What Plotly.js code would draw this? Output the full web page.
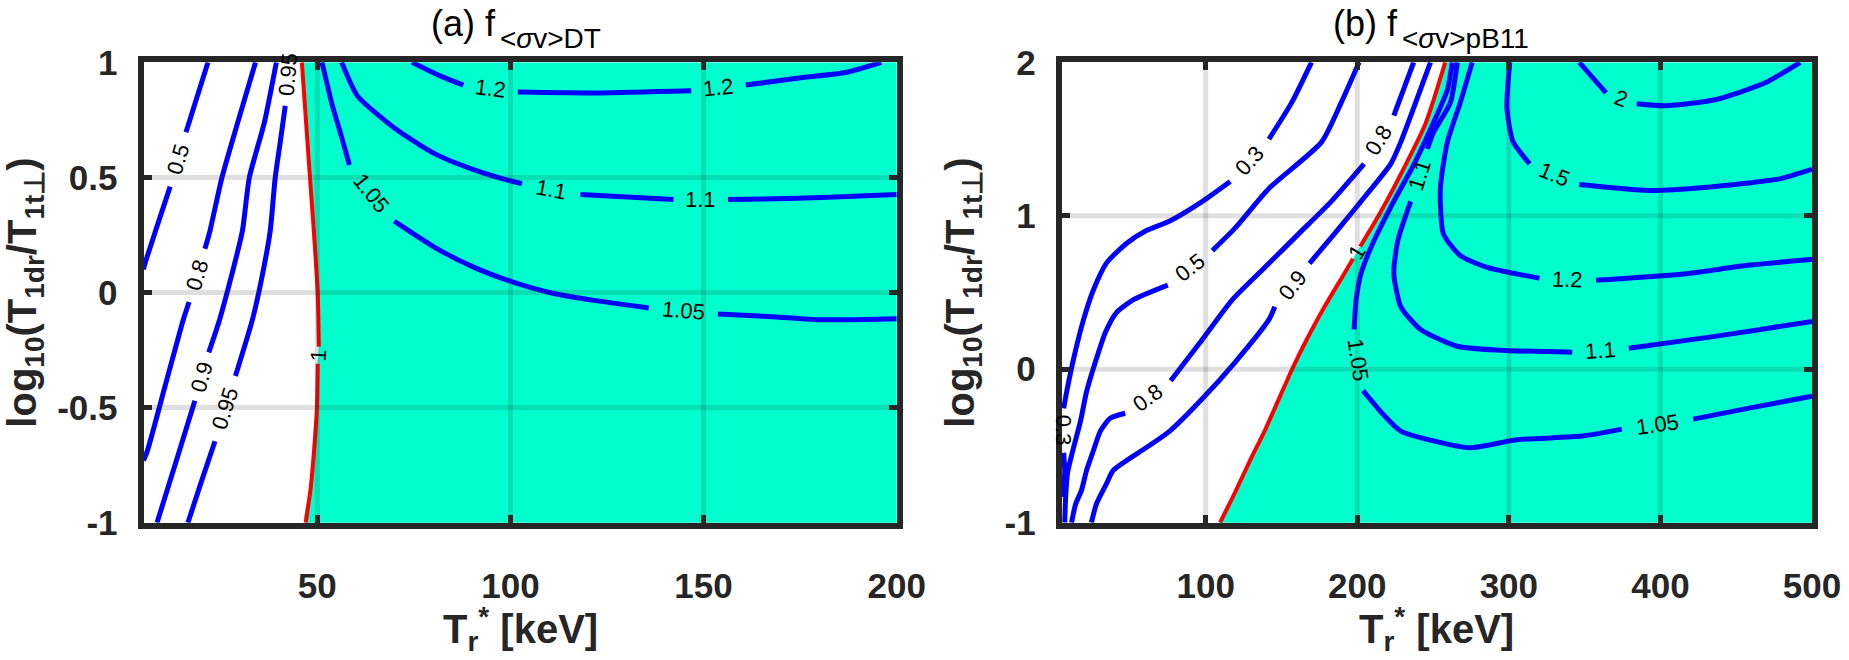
<!DOCTYPE html>
<html>
<head>
<meta charset="utf-8">
<script src="https://cdn.plot.ly/plotly-3.0.1.min.js"></script>
<style>
  html, body { margin: 0; padding: 0; background: #ffffff; }
  #chart { width: 1849px; height: 660px; }
</style>
</head>
<body>
<div id="chart"></div>
<script>
// ---------------- panel (a): D-T reactivity ratio ----------------
const dtRangeX = [5, 200];
const dtRangeY = [-1, 1];
const dtTickValsX = [50, 100, 150, 200];
const dtTickValsY = [-1, -0.5, 0, 0.5, 1];
const dtTickTextY = ['-1', '-0.5', '0', '0.5', '1'];

// contour paths; a null marks the break where the level label is written
const dtX050 = [21.7, 18.8, 16.0, null, 11.9, 8.1, 5.3, 5.0];
const dtY050 = [1.0, 0.846, 0.696, null, 0.460, 0.267, 0.121, 0.10];

const dtX080 = [34.0, 29.4, 25.3, 22.2, 20.9, null, 16.8, 15.3, 10.6, 6.0, 5.0];
const dtY080 = [1.0, 0.739, 0.499, 0.267, 0.190, null, -0.041, -0.118, -0.406, -0.688, -0.73];

const dtX090 = [39.4, 36.3, 32.4, 30.6, 27.8, 24.7, 21.9, null, 18.3, 13.5, 8.5];
const dtY090 = [1.0, 0.739, 0.499, 0.267, 0.074, -0.118, -0.260, null, -0.470, -0.731, -1.0];

const dtX095 = [43.2, null, 41.7, 40.4, 39.1, 37.8, 35.5, 33.2, 28.8, null, 23.5, 19.9, 16.5];
const dtY095 = [1.081, null, 0.811, 0.653, 0.499, 0.267, 0.053, -0.118, -0.363, null, -0.646, -0.826, -1.0];

const dtX105 = [51.2, 53.7, 56.3, 58.3, null, 69.9, 80.6, 90.6, 100.9, 110.9, 121.2, 135.8, null, 153.7, 169.1, 179.4, 188.8, 200];
const dtY105 = [1.0, 0.824, 0.674, 0.554, null, 0.310, 0.194, 0.109, 0.044, -0.003, -0.033, -0.067, null, -0.093, -0.106, -0.118, -0.118, -0.114];

const dtX110 = [56.3, 60.4, 70.4, 80.6, 90.6, 100.9, 103.0, null, 118.1, 142.2, null, 156.3, 174.2, 187.1, 200];
const dtY110 = [1.0, 0.854, 0.709, 0.601, 0.533, 0.481, 0.473, null, 0.426, 0.404, null, 0.404, 0.409, 0.417, 0.426];

const dtX120 = [74.5, 81.9, 87.8, null, 101.9, 122.9, 146.8, null, 160.9, 174.2, 187.1, 196.0];
const dtY120 = [1.0, 0.940, 0.901, null, 0.871, 0.867, 0.876, null, 0.901, 0.931, 0.957, 1.0];

// f = 1 boundary
const dtX100 = [46.0, 48.1, 49.1, 50.1, 50.4, null, 50.1, 49.9, 49.4, 48.3, 47.0];
const dtY100 = [1.0, 0.499, 0.267, -0.003, -0.235, null, -0.31, -0.5, -0.633, -0.847, -1.0];

// ---------------- panel (b): p-B11 reactivity ratio ----------------
const pbRangeX = [5, 500];
const pbRangeY = [-1, 2];
const pbTickValsX = [100, 200, 300, 400, 500];
const pbTickValsY = [-1, 0, 1, 2];
const pbTickTextY = ['-1', '0', '1', '2'];

const pbX030 = [169.8, 156.7, 141.7, null, 116.2, 97.9, 76.3, 60.6, 47.5, 34.4, 25.9, 19.4, 12.8, 8.3, 6.3, null, 6.3, 7.0, 5.7];
const pbY030 = [2.0, 1.737, 1.499, null, 1.223, 1.094, 0.966, 0.902, 0.818, 0.690, 0.516, 0.323, 0.066, -0.146, -0.255, null, -0.544, -0.672, -0.833];

const pbX050 = [201.2, 189.4, 176.4, 141.7, 119.5, 104.4, null, 75.0, 52.1, 41.0, 33.8, 27.2, 21.4, 17.4, 12.8, 8.9, 7.6, 7.0];
const pbY050 = [2.0, 1.737, 1.480, 1.178, 0.921, 0.773, null, 0.548, 0.452, 0.368, 0.240, 0.047, -0.146, -0.338, -0.512, -0.672, -0.833, -1.0];

const pbX080 = [237.2, 224.1, null, 204.5, 182.9, 161.3, 139.1, 117.5, 97.9, 76.9, null, 46.9, 37.0, 30.5, 25.9, 21.4, 18.1, 14.2, 11.5];
const pbY080 = [2.0, 1.653, null, 1.338, 1.094, 0.882, 0.664, 0.452, 0.195, -0.075, null, -0.287, -0.319, -0.403, -0.531, -0.659, -0.788, -0.878, -1.0];

const pbX090 = [248.3, 238.5, 228.7, 222.1, 202.5, 184.9, 168.5, null, 145.6, 141.7, 119.5, 97.9, 76.3, 60.6, 39.0, 34.4, 27.9, 24.6];
const pbY090 = [2.0, 1.737, 1.480, 1.338, 1.094, 0.882, 0.690, null, 0.407, 0.323, 0.047, -0.191, -0.403, -0.512, -0.659, -0.749, -0.878, -1.0];

const pbX105 = [262.7, 259.4, 250.3, 237.2, 224.1, 211.0, 202.5, 199.2, 197.9, null, 203.8, 217.6, 228.7, 250.3, 274.5, 305.2, 348.4, 374.5, null, 421.6, 457.6, 498.8, 500];
const pbY105 = [2.0, 1.820, 1.608, 1.332, 1.094, 0.837, 0.625, 0.452, 0.259, null, -0.139, -0.300, -0.403, -0.467, -0.512, -0.460, -0.435, -0.390, null, -0.325, -0.255, -0.178, -0.175];

const pbX110 = [266.0, 261.4, 250.3, 246.3, null, 235.2, 226.7, 224.1, 228.7, 241.8, 266.0, 294.1, 341.8, null, 379.1, 436.0, 498.8, 500];
const pbY110 = [2.0, 1.737, 1.544, 1.435, null, 1.094, 0.837, 0.625, 0.407, 0.259, 0.150, 0.124, 0.111, null, 0.137, 0.214, 0.310, 0.312];

const pbX120 = [275.8, 267.9, 259.4, 254.8, 256.8, 267.9, 285.6, 320.2, null, 357.5, 413.8, 457.6, 498.8, 500];
const pbY120 = [2.0, 1.737, 1.480, 1.178, 0.882, 0.741, 0.664, 0.593, null, 0.580, 0.619, 0.677, 0.715, 0.716];

const pbX150 = [300.6, 298.7, 302.6, 313.7, null, 346.4, 392.2, 436.0, 479.2, 498.8, 500];
const pbY150 = [2.0, 1.705, 1.486, 1.338, null, 1.203, 1.165, 1.191, 1.242, 1.300, 1.305];

const pbX200 = [346.4, 364.1, null, 384.3, 403.3, 436.0, 468.7, 492.2];
const pbY200 = [2.0, 1.801, null, 1.730, 1.717, 1.756, 1.865, 2.0];

// f = 1 boundary
const pbX100 = [258, 245, 225, 214, 202, null, 197.2, 190, 178, 167, 157, 148, 139, 129, 119.5, 109.5];
const pbY100 = [2.0, 1.6, 1.2, 1.0, 0.80, null, 0.72, 0.6, 0.4, 0.2, 0.0, -0.2, -0.4, -0.6, -0.8, -1.0];

// ---------------- styling ----------------
const FIG_W = 1849, FIG_H = 660;
const FONT = 'Liberation Sans, Arial, Helvetica, sans-serif';
const AXIS_COLOR = '#262626';
const FILL_COLOR = '#00FFCC';
const LEVEL_COLOR = '#0000FF';
const BOUNDARY_COLOR = '#FF0000';
const GRID_COLOR = 'rgba(38,38,38,0.15)';

const domY = [1 - 522.7 / FIG_H, 1 - 62.3 / FIG_H];

const panels = [
  {
    xa: 'x', ya: 'y',
    domX: [143.5 / FIG_W, 896.7 / FIG_W],
    rangeX: dtRangeX, rangeY: dtRangeY,
    tickValsX: dtTickValsX, tickValsY: dtTickValsY, tickTextY: dtTickTextY,
    levels: [
      { value: 0.5, x: dtX050, y: dtY050 },
      { value: 0.8, x: dtX080, y: dtY080 },
      { value: 0.9, x: dtX090, y: dtY090 },
      { value: 0.95, x: dtX095, y: dtY095 },
      { value: 1.05, x: dtX105, y: dtY105 },
      { value: 1.1, x: dtX110, y: dtY110 },
      { value: 1.2, x: dtX120, y: dtY120 }
    ],
    boundary: { value: 1, x: dtX100, y: dtY100 },
    titleMain: '(a) f',
    titleSub: '&lt;<i>σ</i>v&gt;DT',
    titleJoin: 498 / FIG_W
  },
  {
    xa: 'x2', ya: 'y2',
    domX: [1061.7 / FIG_W, 1812 / FIG_W],
    rangeX: pbRangeX, rangeY: pbRangeY,
    tickValsX: pbTickValsX, tickValsY: pbTickValsY, tickTextY: pbTickTextY,
    levels: [
      { value: 0.3, x: pbX030, y: pbY030 },
      { value: 0.5, x: pbX050, y: pbY050 },
      { value: 0.8, x: pbX080, y: pbY080 },
      { value: 0.9, x: pbX090, y: pbY090 },
      { value: 1.05, x: pbX105, y: pbY105 },
      { value: 1.1, x: pbX110, y: pbY110 },
      { value: 1.2, x: pbX120, y: pbY120 },
      { value: 1.5, x: pbX150, y: pbY150 },
      { value: 2, x: pbX200, y: pbY200 }
    ],
    boundary: { value: 1, x: pbX100, y: pbY100 },
    titleMain: '(b) f',
    titleSub: '&lt;<i>σ</i>v&gt;pB11',
    titleJoin: 1400 / FIG_W
  }
];

const traces = [];
const annotations = [];
const shapes = [];

// inline level labels: one at every break of a path, turned along the path
function levelLabels(p, xs, ys, text) {
  const sx = (p.domX[1] - p.domX[0]) * FIG_W / (p.rangeX[1] - p.rangeX[0]);
  const sy = (domY[1] - domY[0]) * FIG_H / (p.rangeY[1] - p.rangeY[0]);
  for (let i = 1; i < xs.length - 1; i++) {
    if (xs[i] !== null) continue;
    const x1 = xs[i - 1], y1 = ys[i - 1], x2 = xs[i + 1], y2 = ys[i + 1];
    let ang = Math.atan2(-(y2 - y1) * sy, (x2 - x1) * sx) * 180 / Math.PI;
    if (ang > 90) ang -= 180;
    if (ang < -90) ang += 180;
    annotations.push({
      xref: p.xa, yref: p.ya,
      x: (x1 + x2) / 2, y: (y1 + y2) / 2,
      text: text, textangle: ang, showarrow: false,
      xanchor: 'center', yanchor: 'middle',
      font: { family: FONT, size: 22, color: '#000000' }
    });
  }
}

panels.forEach(p => {
  // shaded region f > 1: right of the boundary
  const bx = p.boundary.x.filter(v => v !== null);
  const by = p.boundary.y.filter(v => v !== null);
  traces.push({
    type: 'scatter', mode: 'lines', xaxis: p.xa, yaxis: p.ya,
    x: bx.concat([p.rangeX[1], p.rangeX[1]]),
    y: by.concat([p.rangeY[0], p.rangeY[1]]),
    fill: 'toself', fillcolor: FILL_COLOR,
    line: { width: 0, color: FILL_COLOR, shape: 'spline', smoothing: 0.6 },
    hoverinfo: 'skip'
  });

  p.levels.forEach(lv => {
    traces.push({
      type: 'scatter', mode: 'lines', xaxis: p.xa, yaxis: p.ya,
      x: lv.x, y: lv.y, connectgaps: false,
      line: { color: LEVEL_COLOR, width: 5, shape: 'spline', smoothing: 0.6 },
      hoverinfo: 'skip'
    });
    levelLabels(p, lv.x, lv.y, String(lv.value));
  });

  traces.push({
    type: 'scatter', mode: 'lines', xaxis: p.xa, yaxis: p.ya,
    x: p.boundary.x, y: p.boundary.y, connectgaps: false,
    line: { color: BOUNDARY_COLOR, width: 4, shape: 'spline', smoothing: 0.6 },
    hoverinfo: 'skip'
  });
  levelLabels(p, p.boundary.x, p.boundary.y, String(p.boundary.value));

  // grid drawn over the shading, as translucent lines
  p.tickValsX.forEach(v => {
    if (v <= p.rangeX[0] || v >= p.rangeX[1]) return;
    shapes.push({
      type: 'line', layer: 'above', xref: p.xa, yref: p.ya + ' domain',
      x0: v, x1: v, y0: 0, y1: 1, line: { color: GRID_COLOR, width: 5 }
    });
  });
  p.tickValsY.forEach(v => {
    if (v <= p.rangeY[0] || v >= p.rangeY[1]) return;
    shapes.push({
      type: 'line', layer: 'above', xref: p.xa + ' domain', yref: p.ya,
      x0: 0, x1: 1, y0: v, y1: v, line: { color: GRID_COLOR, width: 5 }
    });
  });

  // panel title: main part and a low-set subscript part
  annotations.push({
    xref: 'paper', yref: 'paper', x: p.titleJoin, y: 1 - 23 / FIG_H,
    xanchor: 'right', yanchor: 'middle', showarrow: false,
    text: p.titleMain, font: { family: FONT, size: 36, color: '#000000' }
  });
  annotations.push({
    xref: 'paper', yref: 'paper', x: p.titleJoin, y: 1 - 38 / FIG_H,
    xanchor: 'left', yanchor: 'middle', showarrow: false,
    text: p.titleSub, font: { family: FONT, size: 28, color: '#000000' }
  });

  // x-axis title under the tick labels
  annotations.push({
    xref: p.xa + ' domain', yref: 'paper', x: 0.5, y: 1 - 629 / FIG_H,
    xanchor: 'center', yanchor: 'middle', showarrow: false,
    text: 'T<sub>r</sub><sup>*</sup> [keV]',
    font: { family: FONT, size: 40, color: AXIS_COLOR, weight: 'bold' }
  });
});

function axisStyle(extra) {
  return Object.assign({
    showline: true, linewidth: 6, linecolor: AXIS_COLOR, mirror: 'ticks',
    ticks: 'inside', ticklen: 8, tickwidth: 5, tickcolor: AXIS_COLOR,
    showgrid: false, zeroline: false, fixedrange: true,
    tickfont: { family: FONT, size: 35, color: AXIS_COLOR, weight: 'bold' }
  }, extra);
}

function yTitle(standoff) {
  return {
    text: 'log<sub>10</sub>(T<sub>1dr</sub>/T<sub>1t⊥</sub>)',
    font: { family: FONT, size: 40, color: AXIS_COLOR, weight: 'bold' },
    standoff: standoff
  };
}

const layout = {
  width: FIG_W, height: FIG_H,
  margin: { l: 0, r: 0, t: 0, b: 0 },
  paper_bgcolor: '#ffffff', plot_bgcolor: '#ffffff',
  showlegend: false,
  xaxis: axisStyle({
    domain: panels[0].domX, range: dtRangeX, anchor: 'y',
    tickvals: dtTickValsX, ticktext: dtTickValsX.map(String),
    ticklabelstandoff: 27
  }),
  yaxis: axisStyle({
    domain: domY, range: dtRangeY, anchor: 'x',
    tickvals: dtTickValsY, ticktext: dtTickTextY,
    ticklabelstandoff: 13, title: yTitle(14)
  }),
  xaxis2: axisStyle({
    domain: panels[1].domX, range: pbRangeX, anchor: 'y2',
    tickvals: pbTickValsX, ticktext: pbTickValsX.map(String),
    ticklabelstandoff: 27
  }),
  yaxis2: axisStyle({
    domain: domY, range: pbRangeY, anchor: 'x2',
    tickvals: pbTickValsY, ticktext: pbTickTextY,
    ticklabelstandoff: 13, title: yTitle(20)
  }),
  shapes: shapes,
  annotations: annotations
};

Plotly.newPlot('chart', traces, layout, { staticPlot: true, displayModeBar: false });
</script>
</body>
</html>
